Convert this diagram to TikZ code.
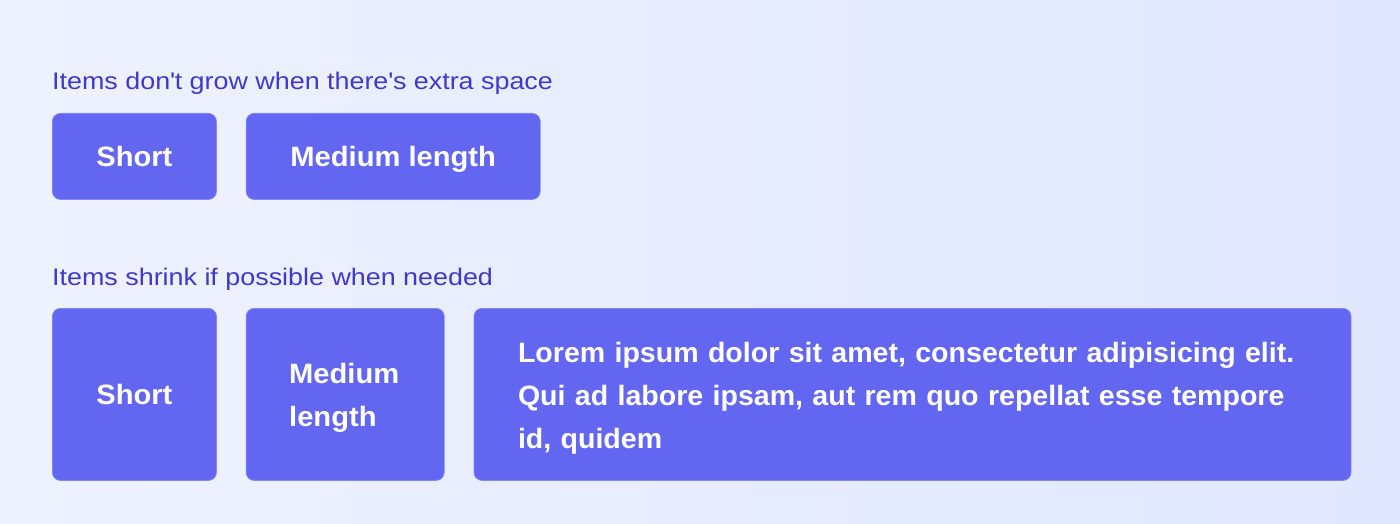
\documentclass[tikz,border=0pt]{standalone}
\usepackage{fontspec}
\setmainfont{Liberation Sans}
\newfontfamily\captionfont[FakeStretch=1.12]{Liberation Sans}
\newfontfamily\itemfont[FakeStretch=1.04]{Liberation Sans}
\newfontfamily\loremfont[FakeStretch=1.02]{Liberation Sans}
\usetikzlibrary{positioning}
\definecolor{bgleft}{HTML}{EEF2FF}
\definecolor{bgright}{HTML}{E0E7FF}
\definecolor{itemfill}{HTML}{6366F1}
\definecolor{captiontext}{HTML}{4338CA}

\begin{document}
\begin{tikzpicture}[x=1pt, y=-1pt,
    item/.style={fill=itemfill, draw=itemfill!80!white, line width=0.8pt,
                 rounded corners=8pt, text=white, inner sep=0pt,
                 font=\itemfont\fontsize{28}{43}\selectfont\bfseries},
    oneline/.style={text height=20pt, text depth=0pt},
    manyline/.style={text height=28pt, align=left},
    caption/.style={text=captiontext, inner sep=0pt, anchor=base west,
                    font=\captionfont\fontsize{24}{29}\selectfont}]
      % Background
      \shade[left color=bgleft, right color=bgright] (0,0) rectangle (1400,524);

      % Items don't grow
      \node (capgrow) [caption] at (52,90)
            {Items don\textquotesingle t grow when there\textquotesingle s extra space};
      \node (shortgrow) [item, oneline, anchor=north west, minimum width=164pt, minimum height=86pt]
            at (52,113) {Short};
      \node (mediumgrow) [item, oneline, minimum width=294pt, minimum height=86pt,
            right=29pt of shortgrow] {Medium length};

      % Items shrink
      \node (capshrink) [caption] at (52,285) {Items shrink if possible when needed};
      \node (shortshrink) [item, oneline, anchor=north west, minimum width=164pt, minimum height=172pt]
            at (52,308) {Short};
      \node (mediumshrink) [item, manyline, minimum height=172pt, inner xsep=43pt,
            text width=112pt, right=29pt of shortshrink] {Medium\\length};
      \node (loremshrink) [item, manyline, minimum height=172pt, inner xsep=44pt,
            text width=789pt, right=29pt of mediumshrink,
            font=\loremfont\fontsize{28}{43}\selectfont\bfseries]
            {Lorem ipsum dolor sit amet, consectetur adipisicing elit.\\
             Qui ad labore ipsam, aut rem quo repellat esse tempore\\
             id, quidem};
    \end{tikzpicture}
\end{document}
